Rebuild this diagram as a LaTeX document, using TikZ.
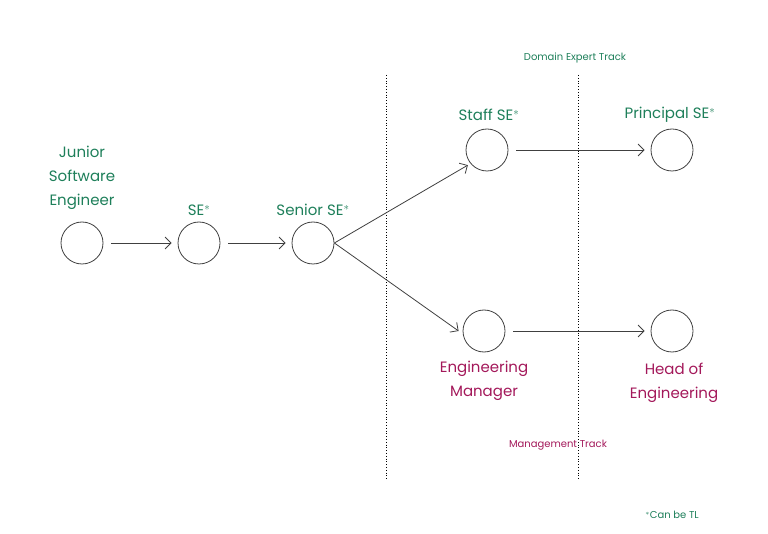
\documentclass[tikz,border=0pt]{standalone}
\usepackage{fontspec}
\setmainfont{Poppins}
\usepackage{tikz}
\usetikzlibrary{arrows.meta}
\definecolor{trackgreen}{HTML}{1E7F5A}
\definecolor{trackred}{HTML}{A3185A}
\begin{document}
\begin{tikzpicture}[x=1pt, y=-1pt,
  role/.style = {circle, draw = black!75, thick, minimum size = 42pt, inner sep = 0pt},
  promo/.style = {draw = black!75, thick, -{Straight Barb[length=6pt]}},
  lbl/.style = {align = center, font = \fontsize{15}{24}\selectfont},
  tiny/.style = {font = \fontsize{10}{12}\selectfont}]
\useasboundingbox (0,0) rectangle (768,534);

% the two tracks
\draw [dotted, thick] (386,75) -- (386,480);
\draw [dotted, thick] (578,75) -- (578,480);

\node [role] (jse) at (82,243) {};
\node [role] (se) at (199,243) {};
\node [role] (sse) at (313,243) {};
\node [role] (staff) at (487,150) {};
\node [role] (prin) at (672,150) {};
\node [role] (em) at (484,331) {};
\node [role] (head) at (672,331) {};

\node [lbl, text = trackgreen] (ljse) at (82,178) {Junior\\Software\\Engineer};
\node [lbl, text = trackgreen] (lse) at (199,210) {SE$^{\ast}$};
\node [lbl, text = trackgreen] (lsse) at (313,210) {Senior SE$^{\ast}$};
\node [lbl, text = trackgreen] (lstaff) at (489,115) {Staff SE$^{\ast}$};
\node [lbl, text = trackgreen] (lprin) at (670,115) {Principal SE$^{\ast}$};
\node [lbl, text = trackred] (lem) at (484,381) {Engineering\\Manager};
\node [lbl, text = trackred] (lhead) at (674,383) {Head of\\Engineering};

\node [tiny, text = trackgreen] (ldomain) at (575,58) {Domain Expert Track};
\node [tiny, text = trackred] (lmgmt) at (558,445) {Management Track};
\node [tiny, text = trackgreen] (lnote) at (672,515) {$^{\ast}$Can be TL};

\draw [promo] ([xshift=8pt]jse.east) -- ([xshift=-6pt]se.west);
\draw [promo] ([xshift=8pt]se.east) -- ([xshift=-6pt]sse.west);
\draw [promo] (sse.east) -- ([xshift=-4pt]staff.south west);
\draw [promo] (sse.east) -- ([xshift=-4pt]em.west);
\draw [promo] ([xshift=8pt]staff.east) -- ([xshift=-6pt]prin.west);
\draw [promo] ([xshift=8pt]em.east) -- ([xshift=-6pt]head.west);
\end{tikzpicture}
\end{document}
